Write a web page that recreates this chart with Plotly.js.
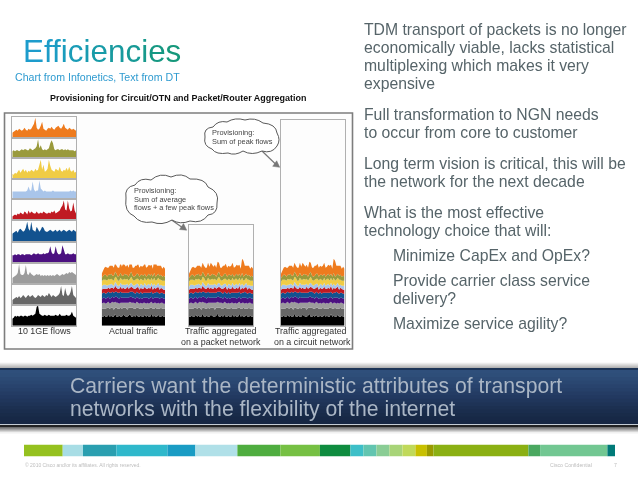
<!DOCTYPE html>
<html><head><meta charset="utf-8">
<script src="https://cdn.plot.ly/plotly-3.0.1.min.js"></script>
<style>html,body{margin:0;padding:0;background:#fff}#c{width:638px;height:478px;filter:blur(0.35px)}</style>
</head><body><div id="c"></div>
<script>
const W = 638, H = 478;
const flowNames = ["Orange","Olive","Yellow","Light blue","Red","Blue","Purple","Light gray","Dark gray","Black"];
const flowColors = ["#ee7b1e","#9a9a3c","#f0cc45","#a9c5ea","#c01a22","#12528f","#4b1080","#9c9c9c","#666666","#000000"];

const flowOrange = [5,6,7,8,7,9,8,7,8,10,8,7,9,8,9,11,14,20,10,8,9,12,16,9,8,7,9,10,9,11,9,8,10,11,12,10,9,11,14,10,9,8,10,9,8,9,8,7];
const flowOlive  = [7,8,7,8,8,7,8,9,8,9,9,8,8,10,9,8,9,10,12,19,10,13,9,8,9,8,9,10,15,18,15,9,8,9,9,8,9,9,8,9,8,9,8,8,8,8,7,8];
const flowYellow = [5,4,6,5,7,9,6,8,10,7,9,6,8,7,9,8,7,10,8,9,13,19,9,14,7,8,10,19,13,9,8,7,10,9,8,12,8,7,9,8,11,8,12,8,7,9,6,7];
const flowLtBlue = [8,8,8,8,8,8,8,8,8,8,8,9,13,9,9,18,10,8,9,9,19,11,9,8,9,8,8,8,8,8,9,8,8,8,8,8,8,8,8,8,8,8,8,9,8,9,8,8];
const flowRed    = [4,5,6,5,7,6,8,7,6,9,8,6,10,7,9,8,7,7,9,7,7,8,7,9,8,7,7,8,7,9,8,10,7,8,9,10,13,15,20,11,10,20,12,9,10,18,10,7];
const flowBlue   = [8,9,10,11,9,12,13,11,10,11,14,20,13,11,20,12,11,10,15,12,10,12,15,14,11,10,10,11,12,11,10,11,12,10,11,12,10,11,12,11,10,11,12,11,10,12,11,10];
const flowPurple = [8,8,9,8,9,9,8,9,9,8,9,9,9,9,8,9,10,9,9,10,9,9,9,10,9,10,10,11,17,11,9,10,17,11,9,9,10,18,12,9,9,10,9,9,9,10,9,9];
const flowLtGray = [6,7,8,9,11,20,10,9,9,11,19,10,9,12,10,9,8,9,10,9,10,8,9,8,9,8,9,8,9,8,9,8,9,10,9,8,9,10,9,10,11,10,12,11,12,11,10,9];
const flowDkGray = [5,6,7,8,7,9,7,8,10,8,7,9,10,8,9,10,8,7,8,10,9,8,10,9,8,10,9,12,10,8,10,9,8,9,10,12,19,10,9,17,11,9,10,13,19,10,8,7];
const flowBlack  = [7,8,10,9,10,9,10,10,9,10,10,9,10,10,11,10,11,12,19,20,12,11,10,10,11,10,10,11,10,10,10,10,11,10,10,12,10,10,10,10,11,10,10,11,14,10,9,8];
const flows = [flowOrange,flowOlive,flowYellow,flowLtBlue,flowRed,flowBlue,flowPurple,flowLtGray,flowDkGray,flowBlack];

const aggBlack  = [9,9,10,9,9,11,9,10,9,9,12,9,9,10,9,9,11,10,9,9,10,12,9,9,10,9,11,9,9,10,9,9,11,9,10,9,9,12,9,10,9,9,11,9,9,10,9,9];
const aggDkGray = [8,8,7,8,9,7,8,8,9,7,6,9,8,7,9,8,7,8,9,7,8,6,9,9,7,8,7,9,8,7,8,9,6,8,7,8,9,6,8,7,9,8,6,8,9,7,8,8];
const aggLtGray = [5,6,6,5,5,6,5,5,6,7,6,5,6,5,5,6,5,5,5,7,5,6,5,5,6,5,6,5,5,6,5,5,6,5,6,5,5,6,5,6,5,5,6,5,5,6,5,5];
const aggPurple = [5,5,5,5,5,5,5,5,5,5,5,6,5,5,6,5,5,5,5,5,5,5,6,5,5,5,5,5,5,5,5,5,5,6,5,5,5,5,5,5,5,6,5,5,5,5,5,5];
const aggBlue   = [5,5,5,5,5,5,6,5,5,5,5,5,5,6,5,5,5,5,5,5,5,5,5,6,5,5,5,5,5,6,5,5,5,5,5,6,5,5,5,5,5,6,5,5,5,5,5,5];
const aggRed    = [4,4,4,5,4,4,4,5,4,4,6,4,4,4,5,4,5,4,4,6,4,4,5,4,4,5,4,6,4,4,5,4,6,4,4,5,4,6,4,5,4,4,6,4,5,4,4,4];
const aggLtBlue = [3,4,4,4,3,3,4,4,3,3,4,4,3,3,4,4,3,4,4,3,3,4,4,3,3,4,4,3,3,4,4,3,4,3,4,4,3,3,4,4,3,3,4,4,3,3,4,4];
const aggYellow = [5,5,5,5,5,6,5,5,5,5,5,6,5,5,5,5,5,6,5,5,5,5,6,5,5,5,5,5,6,5,5,5,5,5,6,5,5,5,5,6,5,5,5,6,5,5,5,5];
const aggOlive  = [4,4,5,5,4,4,5,5,4,5,5,4,4,5,5,4,4,5,5,4,4,5,5,4,4,4,5,5,4,4,5,5,4,4,4,5,5,4,4,5,4,5,4,4,5,4,5,4];
const aggOrange = [4,5,7,8,9,7,9,8,10,8,9,8,9,8,10,9,13,9,8,10,9,12,9,8,9,10,8,10,9,9,8,10,11,9,8,9,10,9,8,14,16,9,8,10,9,8,9,8];
const aggregateBottomUp = [aggBlack,aggDkGray,aggLtGray,aggPurple,aggBlue,aggRed,aggLtBlue,aggYellow,aggOlive,aggOrange];
const aggregateColors = flowColors.slice().reverse();
const aggregateNames = flowNames.slice().reverse();

const flowPanelEdges = [117,137.7,158.3,178.8,199.4,220.4,241.7,263.2,284,305,325.7];
const stackPanels = [
  {left:101.7,right:165,top:264.5,framed:false},
  {left:189,right:253,top:225,framed:true},
  {left:281,right:344.5,top:120,framed:true}
];

const stripWidths = [38.7,20.3,33.4,51,28,42,43,39.5,30.5,13,13,13,13,13,11.5,6.5,95,11.7,67.3,7.6];
const stripColors = ["#95c11f","#a8dde5","#2a9fb0","#2fb8cb","#1a9cc4","#b0e0e8","#4fad3f","#76c043","#0f8c3f","#3dbfc8","#62c5b0","#8acd95","#a8d478","#c0d95a","#c8c000","#9a9a00","#8bb013","#4aa860","#72c792","#007a78"];

const bannerBands = ["#2f4f7b","#2e4e79","#2c4a75","#2a4771","#28436d","#264069","#243c64","#223960","#20365b","#1e3356","#1c3051","#1a2d4d","#192b49","#172846","#172743"];

const rightText = [
  ["TDM transport of packets is no longer",363,29],
  ["economically viable, lacks statistical",363,47],
  ["multiplexing which makes it very",363,65],
  ["expensive",363,83.5],
  ["Full transformation to NGN needs",363,114],
  ["to occur from core to customer",363,132],
  ["Long term vision is critical, this will be",363,163],
  ["the network for the next decade",363,181],
  ["What is the most effective",363,212],
  ["technology choice that will:",363,230],
  ["Minimize CapEx and OpEx?",391.5,255],
  ["Provide carrier class service",391.5,280],
  ["delivery?",391.5,298],
  ["Maximize service agility?",391.5,323]
];
const chartLabels = [
  ["10 1GE flows",44.5,331],["Actual traffic",133.5,331],
  ["Traffic aggregated",220.5,331],["on a packet network",220.5,341.5],
  ["Traffic aggregated",310.5,331],["on a circuit network",312.5,341.5]
];
const cloudText = [
  ["Provisioning:",211,132],["Sum of peak flows",211,141],
  ["Provisioning:",133,190],["Sum of average",133,199],["flows + a few peak flows",133,207.8]
];
const titleLetters = "Efficiencies".split("");
const titleColors = ["#1d9ccc","#1c9cc8","#1b9cc3","#1a9cbd","#1a9cb7","#199bb0","#189ba8","#189a9f","#179a96","#17998c","#169883","#16987b"];

const FONT = "Liberation Sans, Arial, sans-serif";
const traces = [], annotations = [], shapes = [];
const layout = {
  width:W,height:H,margin:{l:0,r:0,t:0,b:0},autosize:false,showlegend:false,
  paper_bgcolor:"#ffffff",plot_bgcolor:"rgba(0,0,0,0)",barmode:"overlay",hovermode:false,
  xaxis:{domain:[0,1],range:[0,W],visible:false,fixedrange:true},
  yaxis:{domain:[0,1],range:[H,0],visible:false,fixedrange:true},
  shapes,annotations
};
function label(text,x,y,size,color,anchor,extra){
  annotations.push(Object.assign({text,x,y,xref:"x",yref:"y",showarrow:false,xanchor:anchor||"left",yanchor:"middle",
    align:anchor||"left",borderpad:0,font:{family:FONT,size,color}},extra||{}));
}
function rect(x0,y0,x1,y1,fill,line,lw,layer){
  shapes.push({type:"rect",xref:"x",yref:"y",x0,y0,x1,y1,fillcolor:fill,line:{width:lw||0,color:line||fill},layer:layer||"below"});
}
function path(d,fill,line,lw){
  shapes.push({type:"path",xref:"x",yref:"y",path:d,fillcolor:fill,line:{width:lw||0,color:line||fill},layer:"above"});
}
let axisNo = 2;
function addPanel(left,right,top,bottom,framed,n){
  const i = axisNo++;
  const common = {showgrid:false,zeroline:false,ticks:"",showticklabels:false,fixedrange:true,
    showline:framed,mirror:framed,linecolor:"#b0b0b0",linewidth:1};
  layout["xaxis"+i] = Object.assign({},common,{domain:[left/W,right/W],range:[0,n-1],anchor:"y"+i});
  layout["yaxis"+i] = Object.assign({},common,{domain:[1-bottom/H,1-top/H],range:[0,bottom-top],anchor:"x"+i});
  return i;
}

/* strip: stacked segments on the page axis */
let run = 24, stripBase = [];
stripWidths.forEach(w=>{stripBase.push(run);run+=w;});
traces.push({type:"bar",orientation:"h",x:stripWidths,base:stripBase,y:stripWidths.map(()=>450.5),width:11.5,
  marker:{color:stripColors,line:{width:0}},hoverinfo:"skip",xaxis:"x",yaxis:"y"});

/* chart frame */
rect(4.5,113,352.5,349,"#fdfdfd","#7d7d7d",1.6);

/* flow panels */
flows.forEach((vals,k)=>{
  const i = addPanel(12.3,76,flowPanelEdges[k],flowPanelEdges[k+1],true,vals.length);
  traces.push({type:"scatter",mode:"lines",x:vals.map((_,j)=>j),y:vals,fill:"tozeroy",fillcolor:flowColors[k],
    line:{width:0,color:flowColors[k]},name:flowNames[k],hoverinfo:"skip",xaxis:"x"+i,yaxis:"y"+i});
});
/* stacked panels */
stackPanels.forEach((p,pi)=>{
  const i = addPanel(p.left,p.right,p.top,325.7,p.framed,aggBlack.length);
  aggregateBottomUp.forEach((vals,k)=>{
    traces.push({type:"scatter",mode:"lines",x:vals.map((_,j)=>j),y:vals,stackgroup:"s"+pi,fillcolor:aggregateColors[k],
      line:{width:0,color:aggregateColors[k]},name:aggregateNames[k],hoverinfo:"skip",xaxis:"x"+i,yaxis:"y"+i});
  });
});

/* arrows, then clouds on top */
path("M262,151 L276,164.5","rgba(0,0,0,0)","#777777",1.2);
path("M279.7,167.3 L272.7,166.3 L276.7,160.8 Z","#777777","#777777",0.5);
path("M166,216 L183,228","rgba(0,0,0,0)","#777777",1.2);
path("M186.7,230.2 L179.5,229.5 L183.5,223.6 Z","#777777","#777777",0.5);
path("M205,137 Q203,128 213,127 Q218,120 227,122 Q235,117 245,120 Q255,117 263,123 Q276,124 277,133 Q281,140 277,146 Q272,154 262,151 Q252,156 243,151 Q235,156 228,153 Q216,155 212,149 Q203,146 205,137 Z","#ffffff","#5a5a5a",1);
path("M126,198 Q124,187 135,185 Q140,177 151,180 Q160,172 171,177 Q182,172 190,179 Q205,178 208,187 Q220,192 217,203 Q218,214 208,215 Q202,224 190,221 Q180,225 172,220 Q162,226 152,222 Q140,224 134,216 Q124,212 126,198 Z","#ffffff","#5a5a5a",1);

/* banner */
for(let s=362;s<368;s++){const g=250-(s-362)*14; rect(0,s,W,s+1,`rgb(${g},${g},${g})`);}
rect(0,368,W,370,"#1d3557");
const bandH = (424-370)/bannerBands.length;
bannerBands.forEach((c,k)=>rect(0,370+k*bandH,W,Math.min(424,370+(k+1)*bandH+1.5),c));
rect(0,424,W,425,"#c4ccd4");
rect(0,425,W,427,"#222222");
for(let s=427;s<433;s++){const g=110+(s-427)*26; rect(0,s,W,s+1.5,`rgb(${g},${g},${g})`);}

/* texts */
label(titleLetters.map((c,k)=>`<span style="color:${titleColors[k]}">${c}</span>`).join(""),22,51,31.4,"#1d9ccc");
label("Chart from Infonetics, Text from DT",14,76.5,10.6,"#2f9bd0");
label("<b>Provisioning for Circuit/OTN and Packet/Router Aggregation</b>",178,97.5,8.95,"#111111","center");
rightText.forEach(t=>label(t[0],t[1],t[2],15.75,"#566469"));
chartLabels.forEach(t=>label(t[0],t[1],t[2],8.9,"#333333","center"));
cloudText.forEach(t=>label(t[0],t[1],t[2],7.4,"#444444"));
label("Carriers want the deterministic attributes of transport",69,386,21.2,"#aab6c5");
label("networks with the flexibility of the internet",69,409,21.2,"#aab6c5");
label("© 2010 Cisco and/or its affiliates. All rights reserved.",24,465,5,"#bdbdbd");
label("Cisco Confidential",549,465,5.2,"#bdbdbd");
label("7",613,465,5.2,"#bdbdbd");

Plotly.newPlot("c",traces,layout,{staticPlot:true,displayModeBar:false});
</script></body></html>
